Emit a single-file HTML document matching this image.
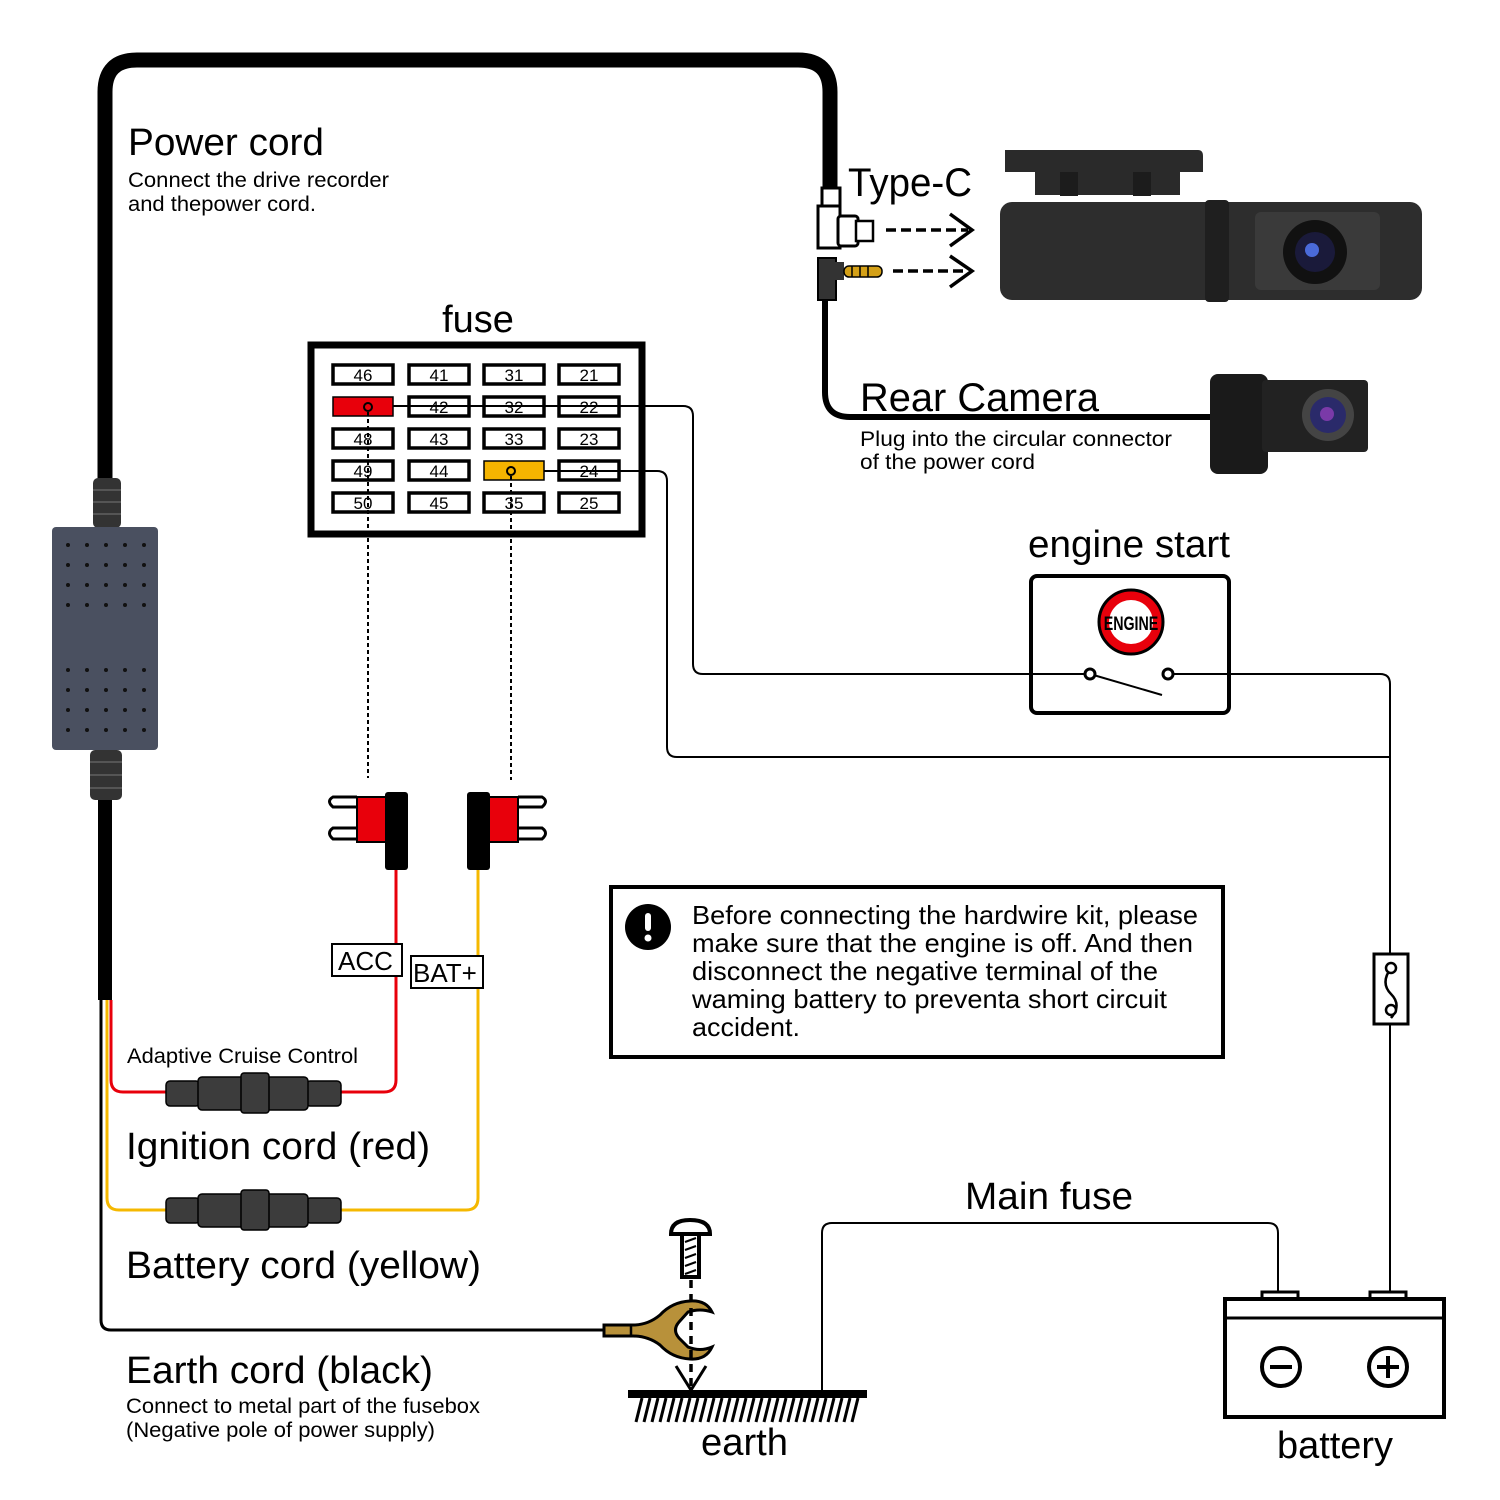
<!DOCTYPE html>
<html><head><meta charset="utf-8"><style>
html,body{margin:0;padding:0;background:#fff}
svg{display:block}
text{font-family:"Liberation Sans",sans-serif;fill:#000}
</style></head><body>
<svg width="1500" height="1500" viewBox="0 0 1500 1500" xmlns="http://www.w3.org/2000/svg">
<rect width="1500" height="1500" fill="#fff"/>
<!-- power cord -->
<path d="M105,485 V92 Q105,60 137,60 H798 Q830,60 830,92 V192" fill="none" stroke="#000" stroke-width="15"/>
<!-- rear cord -->
<path d="M825,298 V392 Q825,417 850,417 H1212" fill="none" stroke="#000" stroke-width="6"/>
<!-- Type-C plug -->
<rect x="822" y="188" width="18" height="20" fill="#fff" stroke="#000" stroke-width="3"/>
<path d="M818,206 H840 V248 H818 Z" fill="#fff" stroke="#000" stroke-width="3"/>
<rect x="838" y="216" width="20" height="30" rx="3" fill="#fff" stroke="#000" stroke-width="3"/>
<rect x="856" y="221" width="17" height="20" fill="#fff" stroke="#000" stroke-width="2.5"/>
<!-- 3.5mm jack -->
<rect x="818" y="258" width="18" height="42" fill="#333" stroke="#000" stroke-width="2"/>
<rect x="834" y="262" width="10" height="18" fill="#333"/>
<rect x="844" y="266" width="38" height="11" rx="5" fill="#d4a017" stroke="#000" stroke-width="1.5"/>
<g stroke="#000" stroke-width="1.5"><line x1="852" y1="266" x2="852" y2="277"/><line x1="860" y1="266" x2="860" y2="277"/><line x1="868" y1="266" x2="868" y2="277"/></g>
<g fill="none" stroke="#000" stroke-width="3.5">
<path d="M886,230 H968" stroke-dasharray="10,5"/><path d="M950,214 L972,230 L950,246"/>
<path d="M893,271 H968" stroke-dasharray="10,5"/><path d="M950,256 L972,271 L950,287"/>
</g>
<!-- dash cam -->
<path d="M1005,150 H1198 Q1203,150 1203,156 V172 L1180,172 V195 H1035 V172 H1005 Z" fill="#2a2a2a"/>
<rect x="1060" y="172" width="18" height="24" fill="#1c1c1c"/><rect x="1133" y="172" width="18" height="24" fill="#1c1c1c"/>
<rect x="1000" y="202" width="422" height="98" rx="12" fill="#2d2d2d"/>
<rect x="1205" y="200" width="24" height="102" rx="4" fill="#1f1f1f"/>
<rect x="1255" y="212" width="125" height="78" rx="6" fill="#3a3a3a"/>
<circle cx="1315" cy="252" r="32" fill="#111"/><circle cx="1315" cy="252" r="20" fill="#1a1a3a"/><circle cx="1312" cy="250" r="7" fill="#4a6ad8"/>
<!-- rear camera -->
<rect x="1210" y="374" width="58" height="100" rx="8" fill="#1a1a1a"/>
<rect x="1262" y="380" width="106" height="72" rx="4" fill="#222"/>
<circle cx="1328" cy="415" r="26" fill="#444"/><circle cx="1328" cy="415" r="18" fill="#2a2a6a"/><circle cx="1327" cy="414" r="7" fill="#7a3aa8"/>
<!-- texts top -->
<g lengthAdjust="spacingAndGlyphs">
<text x="128" y="155" font-size="38" textLength="196" lengthAdjust="spacingAndGlyphs">Power cord</text>
<text x="128" y="187" font-size="21" textLength="261" lengthAdjust="spacingAndGlyphs">Connect the drive recorder</text>
<text x="128" y="211" font-size="21" textLength="188" lengthAdjust="spacingAndGlyphs">and thepower cord.</text>
<text x="848" y="196" font-size="40" textLength="124" lengthAdjust="spacingAndGlyphs">Type-C</text>
<text x="860" y="411" font-size="40" textLength="239" lengthAdjust="spacingAndGlyphs">Rear Camera</text>
<text x="860" y="446" font-size="21" textLength="312" lengthAdjust="spacingAndGlyphs">Plug into the circular connector</text>
<text x="860" y="469" font-size="21" textLength="175" lengthAdjust="spacingAndGlyphs">of the power cord</text>
</g>
<text x="478" y="332" font-size="38" text-anchor="middle">fuse</text>
<!-- converter -->
<rect x="93" y="478" width="28" height="50" rx="5" fill="#333"/>
<g stroke="#555" stroke-width="2"><line x1="93" y1="490" x2="121" y2="490"/><line x1="93" y1="502" x2="121" y2="502"/><line x1="93" y1="514" x2="121" y2="514"/></g>
<rect x="52" y="527" width="106" height="223" rx="4" fill="#4a5060"/>
<g fill="#111">
<circle cx="68" cy="545" r="2"/><circle cx="87" cy="545" r="2"/><circle cx="106" cy="545" r="2"/><circle cx="125" cy="545" r="2"/><circle cx="144" cy="545" r="2"/>
<circle cx="68" cy="565" r="2"/><circle cx="87" cy="565" r="2"/><circle cx="106" cy="565" r="2"/><circle cx="125" cy="565" r="2"/><circle cx="144" cy="565" r="2"/>
<circle cx="68" cy="585" r="2"/><circle cx="87" cy="585" r="2"/><circle cx="106" cy="585" r="2"/><circle cx="125" cy="585" r="2"/><circle cx="144" cy="585" r="2"/>
<circle cx="68" cy="605" r="2"/><circle cx="87" cy="605" r="2"/><circle cx="106" cy="605" r="2"/><circle cx="125" cy="605" r="2"/><circle cx="144" cy="605" r="2"/>
<circle cx="68" cy="670" r="2"/><circle cx="87" cy="670" r="2"/><circle cx="106" cy="670" r="2"/><circle cx="125" cy="670" r="2"/><circle cx="144" cy="670" r="2"/>
<circle cx="68" cy="690" r="2"/><circle cx="87" cy="690" r="2"/><circle cx="106" cy="690" r="2"/><circle cx="125" cy="690" r="2"/><circle cx="144" cy="690" r="2"/>
<circle cx="68" cy="710" r="2"/><circle cx="87" cy="710" r="2"/><circle cx="106" cy="710" r="2"/><circle cx="125" cy="710" r="2"/><circle cx="144" cy="710" r="2"/>
<circle cx="68" cy="730" r="2"/><circle cx="87" cy="730" r="2"/><circle cx="106" cy="730" r="2"/><circle cx="125" cy="730" r="2"/><circle cx="144" cy="730" r="2"/>
</g>
<rect x="90" y="750" width="32" height="50" rx="5" fill="#333"/>
<g stroke="#555" stroke-width="2"><line x1="90" y1="762" x2="122" y2="762"/><line x1="90" y1="775" x2="122" y2="775"/><line x1="90" y1="788" x2="122" y2="788"/></g>
<rect x="98" y="800" width="14" height="200" fill="#000"/>
<!-- wires -->
<path d="M101,1000 V1320 Q101,1330 111,1330 H610" fill="none" stroke="#000" stroke-width="3"/>
<path d="M107,1000 V1198 Q107,1210 119,1210 H466 Q478,1210 478,1198 V868" fill="none" stroke="#f5b800" stroke-width="3"/>
<path d="M111,1000 V1080 Q111,1092 123,1092 H384 Q396,1092 396,1080 V868" fill="none" stroke="#e8000b" stroke-width="3"/>
<!-- inline fuses -->
<g fill="#3c3c3c" stroke="#000" stroke-width="1.5">
<rect x="166" y="1081" width="34" height="25" rx="4"/>
<rect x="306" y="1081" width="35" height="25" rx="4"/>
<rect x="198" y="1077" width="110" height="33" rx="4"/>
<rect x="241" y="1073" width="28" height="40" rx="3"/>
</g>
<g fill="#3c3c3c" stroke="#000" stroke-width="1.5">
<rect x="166" y="1198" width="34" height="25" rx="4"/>
<rect x="306" y="1198" width="35" height="25" rx="4"/>
<rect x="198" y="1194" width="110" height="33" rx="4"/>
<rect x="241" y="1190" width="28" height="40" rx="3"/>
</g>
<!-- taps -->
<g stroke="#000" stroke-width="3" fill="#fff">
<path d="M357,797 H333 Q326,801 333,807 H357"/><path d="M357,828 H333 Q326,833 333,839 H357"/>
<path d="M518,797 H542 Q549,801 542,807 H518"/><path d="M518,828 H542 Q549,833 542,839 H518"/>
</g>
<rect x="357" y="797" width="30" height="45" fill="#e8000b" stroke="#000" stroke-width="2"/>
<rect x="385" y="792" width="23" height="78" rx="3" fill="#000"/>
<rect x="488" y="797" width="30" height="45" fill="#e8000b" stroke="#000" stroke-width="2"/>
<rect x="467" y="792" width="23" height="78" rx="3" fill="#000"/>
<rect x="332" y="944" width="70" height="32" fill="#fff" stroke="#000" stroke-width="2"/>
<text x="338" y="970" font-size="26">ACC</text>
<rect x="411" y="956" width="72" height="32" fill="#fff" stroke="#000" stroke-width="2"/>
<text x="413" y="982" font-size="26">BAT+</text>
<text x="127" y="1063" font-size="21" textLength="231" lengthAdjust="spacingAndGlyphs">Adaptive Cruise Control</text>
<text x="126" y="1159" font-size="38" textLength="304" lengthAdjust="spacingAndGlyphs">Ignition cord (red)</text>
<text x="126" y="1278" font-size="38" textLength="355" lengthAdjust="spacingAndGlyphs">Battery cord (yellow)</text>
<text x="126" y="1383" font-size="38" textLength="307" lengthAdjust="spacingAndGlyphs">Earth cord (black)</text>
<text x="126" y="1413" font-size="21" textLength="354" lengthAdjust="spacingAndGlyphs">Connect to metal part of the fusebox</text>
<text x="126" y="1437" font-size="21" textLength="309" lengthAdjust="spacingAndGlyphs">(Negative pole of power supply)</text>
<!-- fuse box -->
<rect x="311" y="345" width="331" height="189" fill="#fff" stroke="#000" stroke-width="7"/>
<g fill="#fff" stroke="#000" stroke-width="3.5">
<rect x="333" y="365" width="60" height="19"/><rect x="409" y="365" width="60" height="19"/><rect x="484" y="365" width="60" height="19"/><rect x="559" y="365" width="60" height="19"/>
<rect x="333" y="397" width="60" height="19" fill="#e8000b" stroke-width="1.5"/><rect x="409" y="397" width="60" height="19"/><rect x="484" y="397" width="60" height="19"/><rect x="559" y="397" width="60" height="19"/>
<rect x="333" y="429" width="60" height="19"/><rect x="409" y="429" width="60" height="19"/><rect x="484" y="429" width="60" height="19"/><rect x="559" y="429" width="60" height="19"/>
<rect x="333" y="461" width="60" height="19"/><rect x="409" y="461" width="60" height="19"/><rect x="484" y="461" width="60" height="19" fill="#f5b400" stroke-width="1.5"/><rect x="559" y="461" width="60" height="19"/>
<rect x="333" y="493" width="60" height="19"/><rect x="409" y="493" width="60" height="19"/><rect x="484" y="493" width="60" height="19"/><rect x="559" y="493" width="60" height="19"/>
</g>
<g font-size="17" text-anchor="middle">
<text x="363" y="381">46</text><text x="439" y="381">41</text><text x="514" y="381">31</text><text x="589" y="381">21</text>
<text x="439" y="413">42</text><text x="514" y="413">32</text><text x="589" y="413">22</text>
<text x="363" y="445">48</text><text x="439" y="445">43</text><text x="514" y="445">33</text><text x="589" y="445">23</text>
<text x="363" y="477">49</text><text x="439" y="477">44</text><text x="589" y="477">24</text>
<text x="363" y="509">50</text><text x="439" y="509">45</text><text x="514" y="509">35</text><text x="589" y="509">25</text>
</g>
<g fill="none" stroke="#000" stroke-width="2">
<circle cx="368" cy="407" r="4"/><circle cx="511" cy="471" r="4"/>
<path d="M393,406 H683 Q693,406 693,416 V664 Q693,674 703,674 H1086"/>
<path d="M544,471 H657 Q667,471 667,481 V747 Q667,757 677,757 H1390"/>
<path d="M1173,674 H1380 Q1390,674 1390,684 V1292"/>
<path d="M822,1390 V1233 Q822,1223 832,1223 H1268 Q1278,1223 1278,1233 V1294"/>
<path d="M368,412 V778" stroke-dasharray="4,3"/>
<path d="M511,476 V780" stroke-dasharray="4,3"/>
</g>
<!-- engine box -->
<text x="1028" y="557" font-size="38" textLength="202" lengthAdjust="spacingAndGlyphs">engine start</text>
<rect x="1031" y="576" width="198" height="137" rx="6" fill="none" stroke="#000" stroke-width="4"/>
<circle cx="1131" cy="622" r="32" fill="#e8000b" stroke="#000" stroke-width="3"/>
<circle cx="1131" cy="622" r="22" fill="#fff"/>
<text x="1131" y="630" font-size="19" text-anchor="middle" font-weight="bold" transform="translate(1131 0) scale(0.75 1) translate(-1131 0)">ENGINE</text>
<line x1="1090" y1="674" x2="1162" y2="695" stroke="#000" stroke-width="2"/>
<circle cx="1090" cy="674" r="5" fill="#fff" stroke="#000" stroke-width="3"/>
<circle cx="1168" cy="674" r="5" fill="#fff" stroke="#000" stroke-width="3"/>
<!-- fuse symbol -->
<rect x="1374" y="954" width="34" height="70" fill="#fff" stroke="#000" stroke-width="3"/>
<path d="M1391,968 Q1380,983 1391,994 Q1402,1005 1391,1018" fill="none" stroke="#000" stroke-width="2.5"/>
<circle cx="1391" cy="968" r="5" fill="#fff" stroke="#000" stroke-width="2.5"/>
<circle cx="1391" cy="1010" r="5" fill="#fff" stroke="#000" stroke-width="2.5"/>
<!-- warning -->
<rect x="611" y="887" width="612" height="170" fill="#fff" stroke="#000" stroke-width="4"/>
<circle cx="648" cy="927" r="23" fill="#000"/>
<rect x="645" y="913" width="6" height="18" rx="3" fill="#fff"/><circle cx="648" cy="938" r="3.5" fill="#fff"/>
<g font-size="26">
<text x="692" y="924" textLength="506" lengthAdjust="spacingAndGlyphs">Before connecting the hardwire kit, please</text>
<text x="692" y="952" textLength="501" lengthAdjust="spacingAndGlyphs">make sure that the engine is off. And then</text>
<text x="692" y="980" textLength="466" lengthAdjust="spacingAndGlyphs">disconnect the negative terminal of the</text>
<text x="692" y="1008" textLength="475" lengthAdjust="spacingAndGlyphs">waming battery to preventa short circuit</text>
<text x="692" y="1036" textLength="108" lengthAdjust="spacingAndGlyphs">accident.</text>
</g>
<!-- main fuse / battery -->
<text x="965" y="1209" font-size="38" textLength="168" lengthAdjust="spacingAndGlyphs">Main fuse</text>
<rect x="1262" y="1292" width="36" height="8" fill="#fff" stroke="#000" stroke-width="3"/>
<rect x="1370" y="1292" width="36" height="8" fill="#fff" stroke="#000" stroke-width="3"/>
<rect x="1225" y="1299" width="219" height="118" fill="#fff" stroke="#000" stroke-width="4"/>
<line x1="1225" y1="1318" x2="1444" y2="1318" stroke="#000" stroke-width="3"/>
<circle cx="1281" cy="1367" r="19" fill="none" stroke="#000" stroke-width="4"/>
<line x1="1270" y1="1367" x2="1292" y2="1367" stroke="#000" stroke-width="4"/>
<circle cx="1388" cy="1367" r="19" fill="none" stroke="#000" stroke-width="4"/>
<line x1="1377" y1="1367" x2="1399" y2="1367" stroke="#000" stroke-width="4"/>
<line x1="1388" y1="1356" x2="1388" y2="1378" stroke="#000" stroke-width="4"/>
<text x="1277" y="1458" font-size="38" textLength="116" lengthAdjust="spacingAndGlyphs">battery</text>
<!-- earth -->
<rect x="628" y="1390" width="239" height="8" fill="#000"/>
<path d="M636,1422 L642,1398 M644,1422 L650,1398 M652,1422 L658,1398 M660,1422 L666,1398 M668,1422 L674,1398 M676,1422 L682,1398 M684,1422 L690,1398 M692,1422 L698,1398 M700,1422 L706,1398 M708,1422 L714,1398 M716,1422 L722,1398 M724,1422 L730,1398 M732,1422 L738,1398 M740,1422 L746,1398 M748,1422 L754,1398 M756,1422 L762,1398 M764,1422 L770,1398 M772,1422 L778,1398 M780,1422 L786,1398 M788,1422 L794,1398 M796,1422 L802,1398 M804,1422 L810,1398 M812,1422 L818,1398 M820,1422 L826,1398 M828,1422 L834,1398 M836,1422 L842,1398 M844,1422 L850,1398 M852,1422 L858,1398" stroke="#000" stroke-width="3"/>
<text x="701" y="1455" font-size="38" textLength="87" lengthAdjust="spacingAndGlyphs">earth</text>
<path d="M671,1234 Q671,1220 690,1220 Q710,1220 710,1234 Z" fill="#fff" stroke="#000" stroke-width="4"/>
<rect x="682" y="1234" width="17" height="43" fill="#fff" stroke="#000" stroke-width="4"/>
<path d="M685,1242 L696,1238 M685,1250 L696,1246 M685,1258 L696,1254 M685,1266 L696,1262 M685,1274 L696,1270" stroke="#000" stroke-width="2"/>
<path d="M604,1325 H633 Q648,1325 660,1315 Q672,1302 690,1301 Q706,1300 712,1312 Q700,1308 688,1312 L679,1322 Q672,1330 679,1338 L688,1347 Q700,1352 712,1347 Q706,1360 690,1359 Q672,1358 660,1345 Q648,1336 633,1336 H604 Z" fill="#b8913a" stroke="#000" stroke-width="3"/>
<line x1="631" y1="1325" x2="631" y2="1336" stroke="#000" stroke-width="2.5"/>
<path d="M691,1280 V1388" stroke="#000" stroke-width="3.5" stroke-dasharray="8,6"/>
<path d="M676,1366 L691,1390 L706,1366" fill="none" stroke="#000" stroke-width="3"/>
</svg>
</body></html>
